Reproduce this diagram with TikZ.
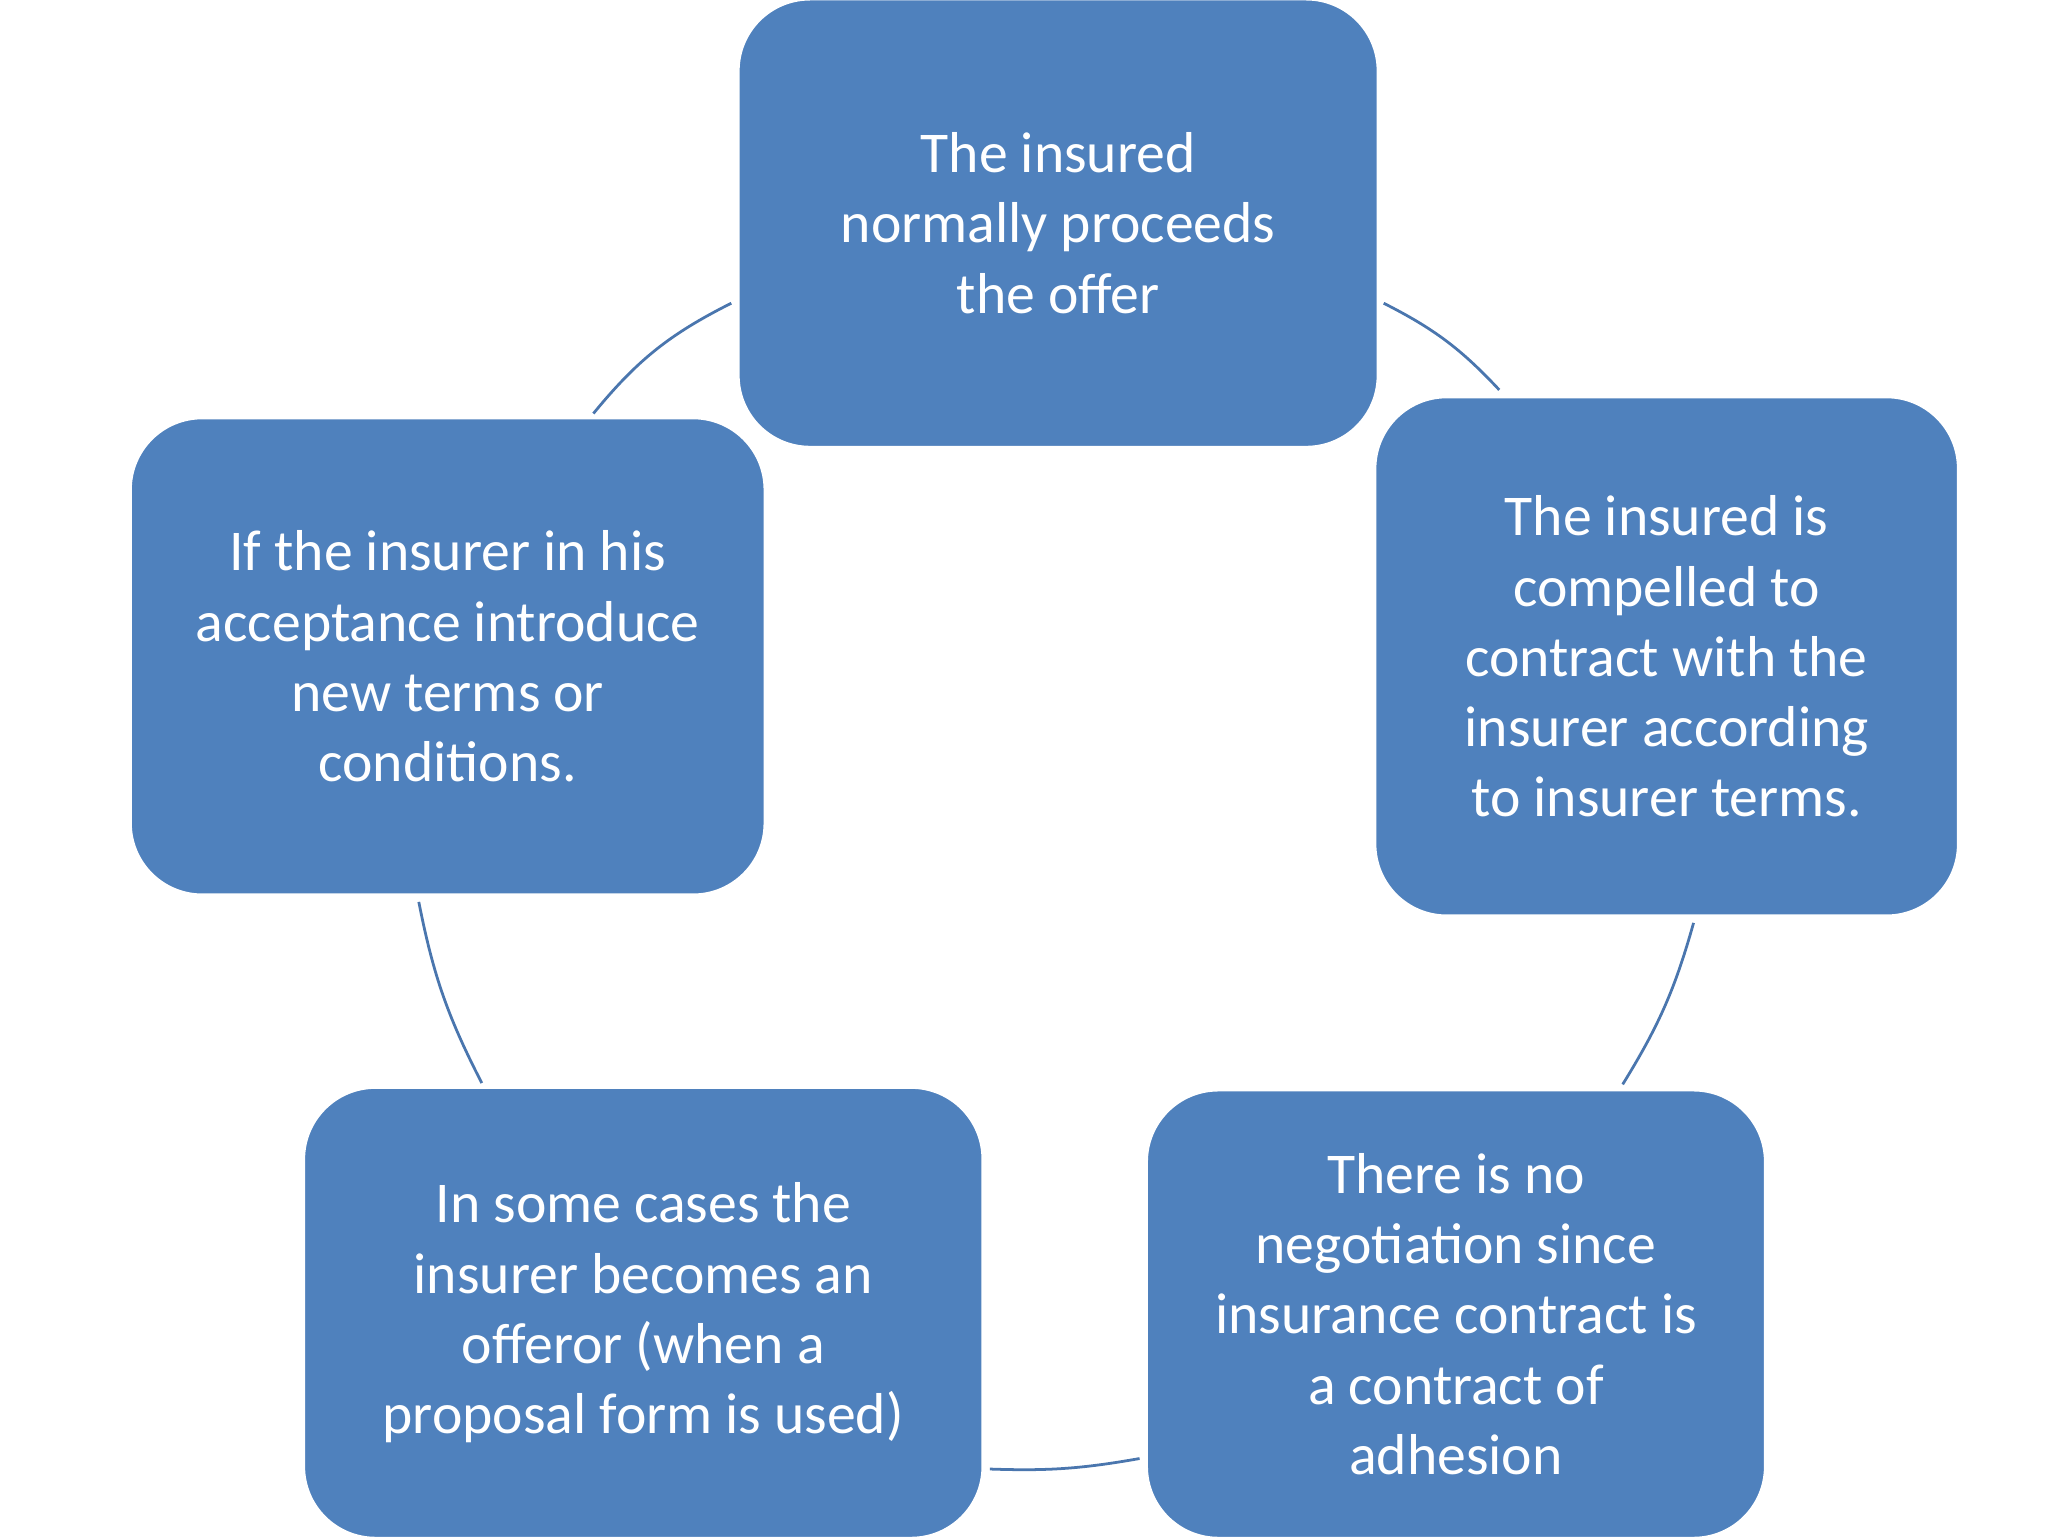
\documentclass[tikz,border=0pt]{standalone}
\usepackage{fontspec}
\setmainfont{Carlito}
\begin{document}
\begin{tikzpicture}
\definecolor{boxblue}{HTML}{4F81BD}
\definecolor{linkblue}{HTML}{4A76AE}
\tikzset{
  bx/.style={draw=white, line width=0.8pt, fill=boxblue, rounded corners=0.55cm, text=white,
    align=center, font=\fontsize{12.5pt}{15.2pt}\selectfont, inner sep=0pt},
  lk/.style={draw=linkblue, line width=0.6pt}
}
\useasboundingbox (0,0) rectangle (15.6,11.7);
\fill[white] (0,0) rectangle (15.6,11.7);
\node[bx, minimum width=4.88cm, minimum height=3.42cm] (t) at (8.06,10.0) {The insured\\normally proceeds\\the offer};
\node[bx, minimum width=4.45cm, minimum height=3.96cm] (r) at (12.695,6.70) {The insured is\\compelled to\\contract with the\\insurer according\\to insurer terms.};
\node[bx, minimum width=4.72cm, minimum height=3.42cm] (br) at (11.09,1.69) {There is no\\negotiation since\\insurance contract is\\a contract of\\adhesion};
\node[bx, minimum width=5.18cm, minimum height=3.44cm] (bl) at (4.90,1.70) {In some cases the\\insurer becomes an\\offeror (when a\\proposal form is used)};
\node[bx, minimum width=4.84cm, minimum height=3.64cm] (l) at (3.41,6.70) {If the insurer in his\\acceptance introduce\\new terms or\\conditions.};
\coordinate (a1) at (4.52,8.55); \coordinate (a2) at (5.57,9.39);
\coordinate (b1) at (10.54,9.39); \coordinate (b2) at (11.42,8.73);
\coordinate (c1) at (12.90,4.67); \coordinate (c2) at (12.36,3.44);
\coordinate (d1) at (8.68,0.59); \coordinate (d2) at (7.54,0.51);
\coordinate (e1) at (3.67,3.45); \coordinate (e2) at (3.19,4.83);
\draw[lk] (a1) to[bend left=12] (a2);
\draw[lk] (b1) to[bend left=10] (b2);
\draw[lk] (c1) to[bend left=8] (c2);
\draw[lk] (d1) to[bend left=6] (d2);
\draw[lk] (e1) to[bend left=8] (e2);
\end{tikzpicture}
\end{document}
